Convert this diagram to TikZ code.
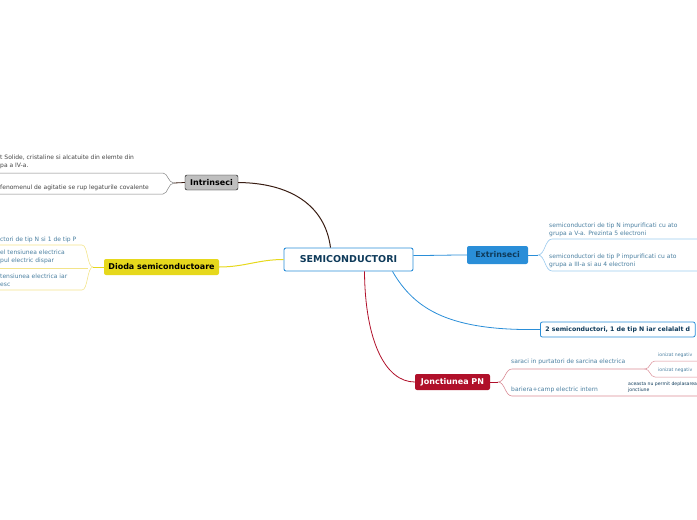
\documentclass[tikz,border=0pt]{standalone}
\usepackage{fontspec}
\setmainfont{DejaVu Sans}
\definecolor{navy}{HTML}{0E3A5A}
\definecolor{cblue}{HTML}{2A8ED8}
\definecolor{lblue}{HTML}{9CCBEE}
\definecolor{ytxt}{HTML}{4A7FA0}
\definecolor{cyel}{HTML}{E6D81C}
\definecolor{lyel}{HTML}{F3E48A}
\definecolor{cred}{HTML}{B0102A}
\definecolor{lred}{HTML}{D98A94}
\definecolor{cbrown}{HTML}{3A1E14}
\definecolor{gtxt}{HTML}{444444}
\begin{document}
\begin{tikzpicture}[x=1pt,y=-1pt,
  topic/.style={rounded corners=2pt,font=\fontsize{8}{9}\selectfont\bfseries,inner sep=0pt,minimum height=16pt},
  sm/.style={font=\fontsize{6}{8}\selectfont,anchor=west,align=left,inner sep=0pt},
  tiny/.style={font=\fontsize{4.6}{5.6}\selectfont,anchor=west,align=left,inner sep=0pt}]
\useasboundingbox (0,0) rectangle (697,520);
\clip (0,0) rectangle (697,520);
% center
\node[draw=cblue,fill=white,line width=0.9pt,rounded corners=2pt,minimum width=129pt,minimum height=23pt,inner sep=0pt,text=navy,font=\fontsize{9.5}{11}\selectfont\bfseries] (c) at (348.5,259.5) {SEMICONDUCTORI};
% Intrinseci
\node[topic,draw=black,fill=gray!50,minimum width=53pt,minimum height=15pt] (i) at (211.5,182.5) {Intrinseci};
\draw[cbrown,line width=1pt] (c.north) ++(-18,0) coordinate (c1) .. controls (325,205) and (290,183) .. (i.east);
\draw[gray,line width=0.5pt] (0,173) -- (163,173) .. controls (168,173) and (168,183) .. (174,183) .. controls (168,183) and (168,194) .. (163,194) -- (0,194);
\draw[cbrown,line width=0.8pt] (174,183) -- (i.west);
\node[sm,text=gtxt] (i1) at (0,162) {t Solide, cristaline si alcatuite din elemte din\\pa a IV-a.};
\node[sm,text=gtxt] (i2) at (0,187.5) {fenomenul de agitatie se rup legaturile covalente};
% Dioda
\node[topic,fill=cyel,minimum width=115pt,minimum height=16pt] (d) at (161.5,267) {Dioda semiconductoare};
\draw[cyel,line width=1pt] (c.west) to[out=180,in=0] (d.east);
\draw[lyel,line width=0.6pt] (0,245) -- (82,245) .. controls (88,245) and (87,267) .. (93,267) .. controls (87,267) and (88,290) .. (82,290) -- (0,290);
\draw[lyel,line width=0.6pt] (0,268) -- (88,268);
\draw[cyel,line width=0.8pt] (93,267) -- (d.west);
\node[sm,text=ytxt] (d1) at (0,240) {ctori de tip N si 1 de tip P};
\node[sm,text=ytxt] (d2) at (0,257) {el tensiunea electrica\\pul electric dispar};
\node[sm,text=ytxt] (d3) at (0,280) {tensiunea electrica iar\\esc};
% Extrinseci
\node[topic,fill=cblue,text=navy,minimum width=61pt,minimum height=18pt] (e) at (497.5,255) {Extrinseci};
\draw[cblue,line width=0.8pt] (c.east) ++(0,-4) to[out=0,in=180] (e.west);
\draw[lblue,line width=0.6pt] (697,239) -- (552,239) .. controls (545,239) and (545,255) .. (538,255) .. controls (545,255) and (545,271) .. (552,271) -- (697,271);
\draw[cblue,line width=0.8pt] (e.east) -- (538,255);
\node[sm,text=ytxt] (e1) at (549,229.5) {semiconductori de tip N impurificati cu ato\\grupa a V-a. Prezinta 5 electroni};
\node[sm,text=ytxt] (e2) at (549,261) {semiconductori de tip P impurificati cu ato\\grupa a III-a si au 4 electroni};
% 2 semiconductori
\node[draw=cblue,fill=white,line width=0.8pt,rounded corners=2pt,anchor=west,minimum height=15pt,inner sep=0pt,inner xsep=5pt,text=navy,font=\fontsize{6.2}{7}\selectfont\bfseries] (s) at (540,329.5) {2 semiconductori, 1 de tip N iar celalalt d};
\draw[cblue,line width=0.8pt] (c.south) ++(44,0) .. controls (415,310) and (450,331) .. (s.west);
% Jonctiunea PN
\node[topic,fill=cred,text=white,minimum width=75pt,minimum height=16pt] (j) at (452.5,382) {Jonctiunea PN};
\draw[cred,line width=0.8pt] (c.south) ++(16,0) .. controls (365,340) and (385,382) .. (j.west);
\draw[lred,line width=0.6pt] (645,369) -- (512,369) .. controls (505,369) and (505,382) .. (498,382) .. controls (505,382) and (505,396) .. (512,396) -- (697,396);
\draw[cred,line width=0.8pt] (j.east) -- (498,382);
\node[sm,text=ytxt] (j1) at (511,362) {saraci in purtatori de sarcina electrica};
\node[sm,text=ytxt] (j2) at (511,390) {bariera+camp electric intern};
\draw[lred,line width=0.5pt] (697,361) -- (655,361) .. controls (650,361) and (650,369) .. (645,369) .. controls (650,369) and (650,377) .. (655,377) -- (697,377);
\node[tiny,text=ytxt] (k1) at (658,355) {ionizat negativ};
\node[tiny,text=ytxt] (k2) at (658,370) {ionizat negativ};
\node[tiny,text=navy] (k3) at (628,387.5) {aceasta nu permit deplasarea\\jonctiune};
\end{tikzpicture}
\end{document}
